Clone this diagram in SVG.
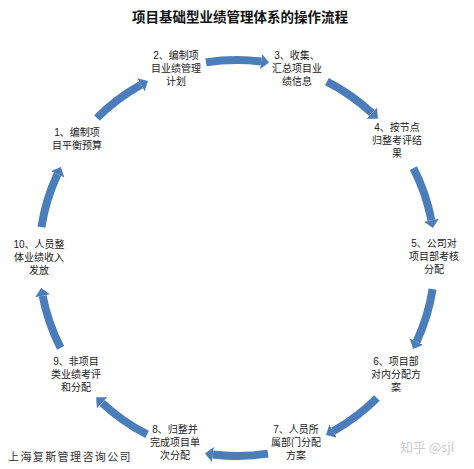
<svg xmlns="http://www.w3.org/2000/svg" width="474" height="469" viewBox="0 0 474 469">
<style>
.bg{fill:#ffffff}
.t{font-family:"Liberation Sans","Noto Sans CJK SC",sans-serif;font-size:10px;fill:#1a1a1a;text-anchor:middle}
.title{font-family:"Noto Sans CJK SC",sans-serif;font-size:13.5px;font-weight:bold;fill:#111;text-anchor:middle}
.arc{fill:none;stroke:#4a7dba;stroke-width:8;stroke-linecap:butt;marker-end:url(#ah)}
.corp{font-family:"Noto Sans CJK SC",sans-serif;font-size:11px;fill:#333;letter-spacing:1.4px}
.wm{font-family:"Noto Sans CJK SC",sans-serif;font-size:13px;fill:#cfcfcf}
</style>
<defs>
<marker id="ah" markerUnits="userSpaceOnUse" markerWidth="10" markerHeight="16" viewBox="0 -8 10 16" refX="0" refY="0" orient="auto">
<path d="M0,-7.5 L8,0 L0,7.5 Z" fill="#4a7dba"/>
</marker>
</defs>
<rect class="bg" x="0" y="0" width="474" height="469"/>
<text class="title" x="240" y="22">项目基础型业绩管理体系的操作流程</text>

<g id="connectors">
<path class="arc" d="M97.0,118.0 A198,198 0 0 1 141.0,84.8"/>
<path class="arc" d="M206.0,62.4 A198,198 0 0 1 261.1,61.5"/>
<path class="arc" d="M326.9,81.6 A198,198 0 0 1 372.0,113.2"/>
<path class="arc" d="M413.4,168.1 A198,198 0 0 1 431.4,220.2"/>
<path class="arc" d="M432.6,289.0 A198,198 0 0 1 416.5,341.7"/>
<path class="arc" d="M377.0,398.0 A198,198 0 0 1 333.0,431.2"/>
<path class="arc" d="M268.0,453.6 A198,198 0 0 1 212.9,454.5"/>
<path class="arc" d="M147.1,434.4 A198,198 0 0 1 102.0,402.8"/>
<path class="arc" d="M60.6,347.9 A198,198 0 0 1 42.6,295.8"/>
<path class="arc" d="M41.4,227.0 A198,198 0 0 1 57.5,174.3"/>
</g>

<g id="n1"><text class="t" x="77" y="136.2"><tspan x="77">1、编制项</tspan><tspan x="77" dy="13">目平衡预算</tspan></text></g>
<g id="n2"><text class="t" x="176" y="58.5"><tspan x="176">2、编制项</tspan><tspan x="176" dy="13">目业绩管理</tspan><tspan x="176" dy="13">计划</tspan></text></g>
<g id="n3"><text class="t" x="297" y="58.5"><tspan x="297">3、收集、</tspan><tspan x="297" dy="13">汇总项目业</tspan><tspan x="297" dy="13">绩信息</tspan></text></g>
<g id="n4"><text class="t" x="397" y="130.5"><tspan x="397">4、按节点</tspan><tspan x="397" dy="13">归整考评结</tspan><tspan x="397" dy="13">果</tspan></text></g>
<g id="n5"><text class="t" x="434" y="246.5"><tspan x="434">5、公司对</tspan><tspan x="434" dy="13">项目部考核</tspan><tspan x="434" dy="13">分配</tspan></text></g>
<g id="n6"><text class="t" x="396" y="364.5"><tspan x="396">6、项目部</tspan><tspan x="396" dy="13">对内分配方</tspan><tspan x="396" dy="13">案</tspan></text></g>
<g id="n7"><text class="t" x="296" y="432.5"><tspan x="296">7、人员所</tspan><tspan x="296" dy="13">属部门分配</tspan><tspan x="296" dy="13">方案</tspan></text></g>
<g id="n8"><text class="t" x="175" y="432.5"><tspan x="175">8、归整并</tspan><tspan x="175" dy="13">完成项目单</tspan><tspan x="175" dy="13">次分配</tspan></text></g>
<g id="n9"><text class="t" x="76" y="364.5"><tspan x="76">9、非项目</tspan><tspan x="76" dy="13">类业绩考评</tspan><tspan x="76" dy="13">和分配</tspan></text></g>
<g id="n10"><text class="t" x="39" y="247.5"><tspan x="39">10、人员整</tspan><tspan x="39" dy="13">体业绩收入</tspan><tspan x="39" dy="13">发放</tspan></text></g>

<text class="corp" x="8" y="461">上海复斯管理咨询公司</text>
<text class="wm" x="400" y="452">知乎 @sjl</text>
</svg>
